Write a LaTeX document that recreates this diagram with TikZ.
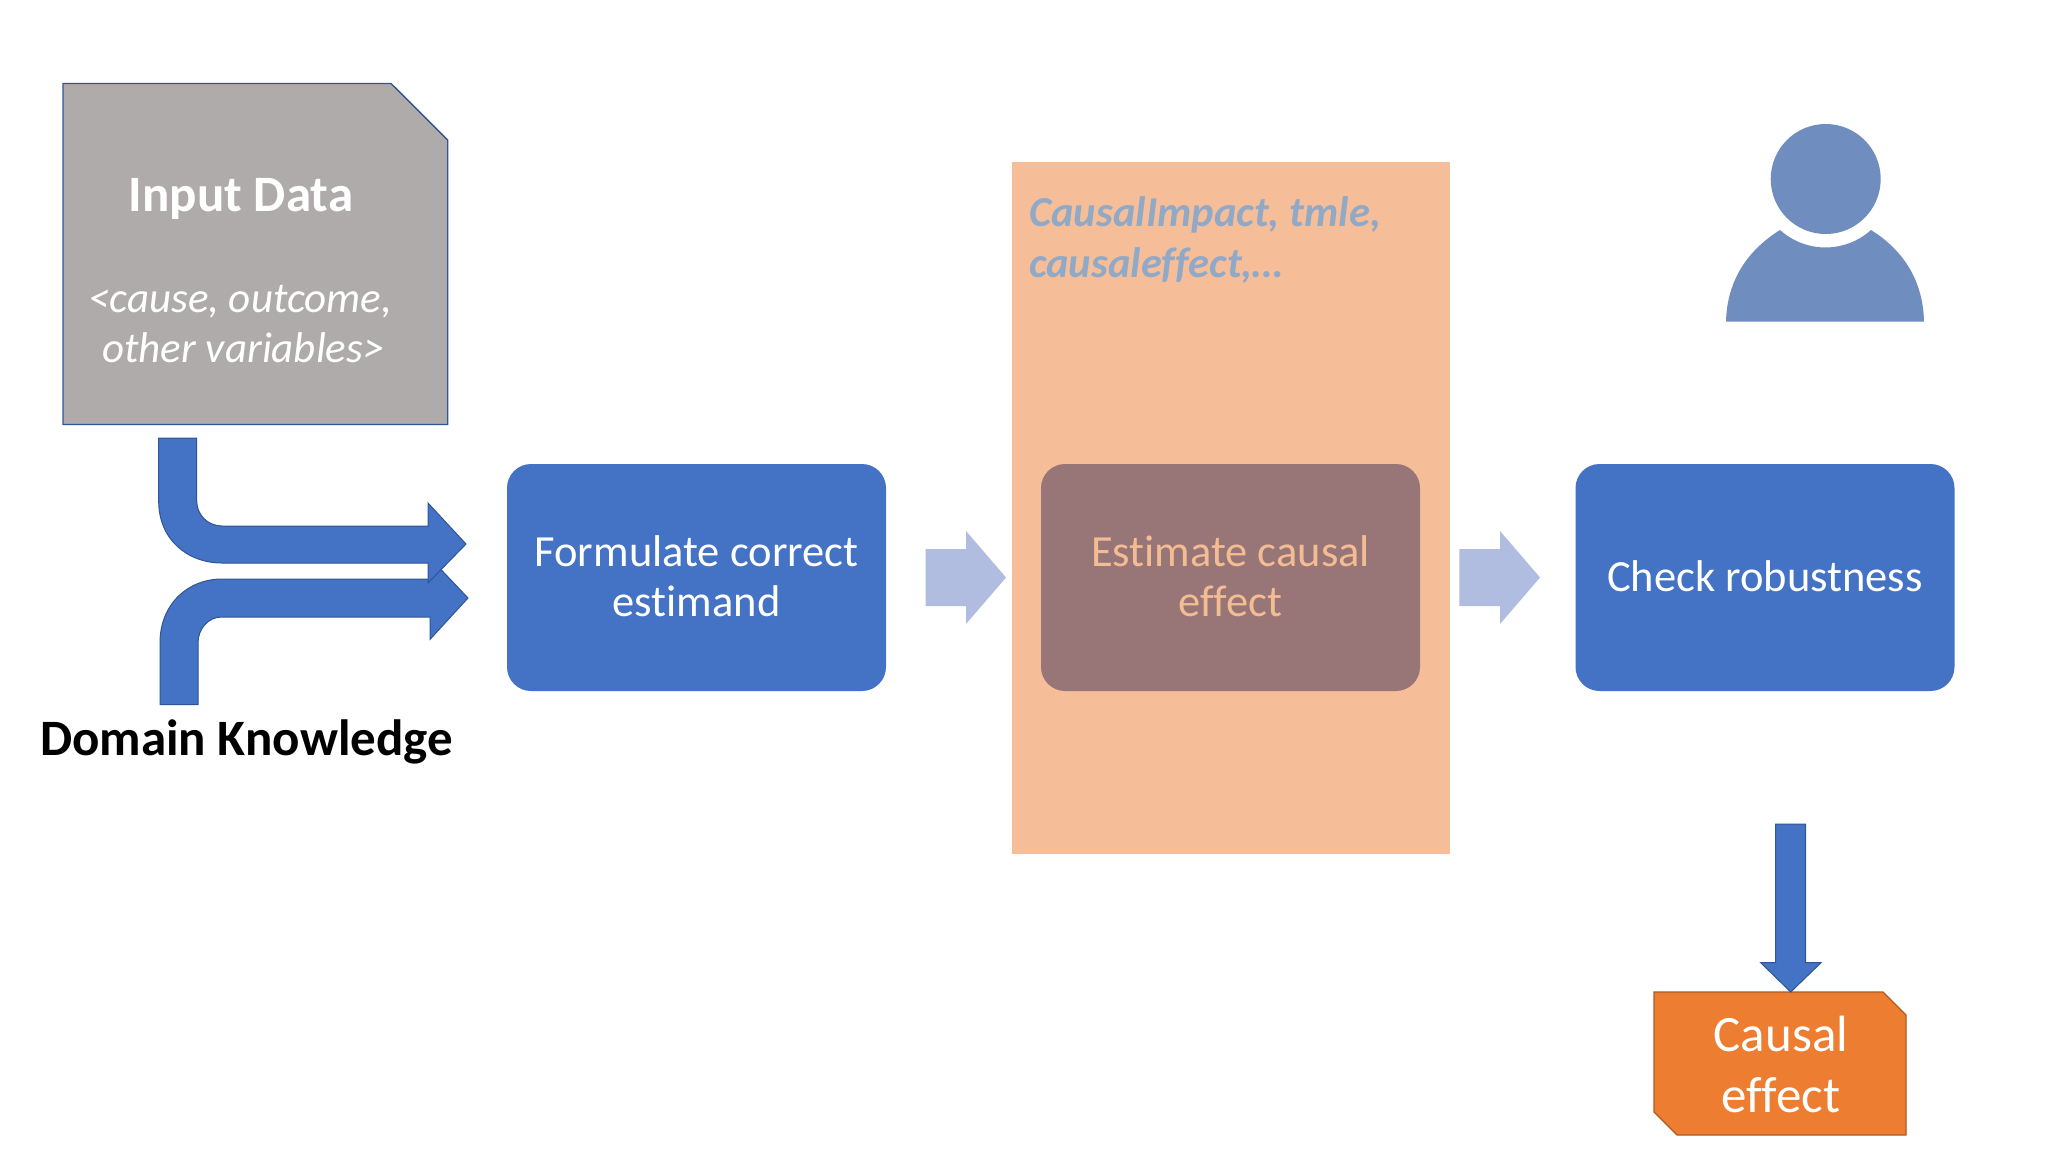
\documentclass[tikz,border=0pt]{standalone}
\usepackage{fontspec}
\setmainfont{Carlito}[Ligatures=CommonOff]
\definecolor{bluefill}{HTML}{4472C4}
\definecolor{blueline}{HTML}{2F5597}
\definecolor{greyfill}{HTML}{AFABAB}
\definecolor{panelfill}{HTML}{F6BD99}
\definecolor{dimbox}{HTML}{987577}
\definecolor{dimtext}{HTML}{F4BC92}
\definecolor{lightarrow}{HTML}{B0BCE0}
\definecolor{personfill}{HTML}{6F8DBE}
\definecolor{toolstext}{HTML}{90A9C7}
\definecolor{orangefill}{HTML}{ED7D31}
\definecolor{orangeline}{HTML}{AE5A21}
\newcommand{\liftline}{\rule[-3pt]{0pt}{3pt}}
\tikzset{
  px/.style={x=1pt,y=-1pt},
  blockarrow/.style={fill=bluefill,draw=blueline,line width=1pt,line join=miter},
  softarrow/.style={fill=lightarrow,draw=none},
  procbox/.style={rectangle,rounded corners=24pt,minimum width=379pt,minimum height=227pt,inner sep=0pt,align=center,fill=bluefill,text=white,font=\fontsize{44.5}{49.5}\selectfont},
  whitelabel/.style={inner sep=0pt,align=center,text=white},
  toolslabel/.style={anchor=base west,inner sep=0pt,text=toolstext,font=\fontsize{42.6}{42.6}\selectfont\bfseries\itshape},
}
\begin{document}
\begin{tikzpicture}[px]
\useasboundingbox[fill=white] (0,0) rectangle (2048,1152);
% input data
\draw[fill=greyfill,draw=blueline,line width=1.4pt] (63,83.5) -- (391,83.5) -- (447.7,140) -- (447.7,424.5) -- (63,424.5) -- cycle;
\node[whitelabel,anchor=base,font=\fontsize{51}{51}\selectfont\bfseries] (inputtitle) at (241,211) {Input Data};
\node[whitelabel,anchor=center,font=\fontsize{43}{50.5}\selectfont\itshape] (inputvars) at (240,324) {<cause, outcome,\\ \hspace{7pt}other variables>};
% merging arrows
\draw[blockarrow] (160,704.6) -- (160,643) .. controls (160,604) and (188,579) .. (222,579) -- (430,579) -- (430,558) -- (468,598) -- (430,639.4) -- (430,617) -- (222,617) .. controls (208,617) and (198,629) .. (198,643) -- (198,704.6) -- cycle;
\draw[blockarrow] (158.7,438) -- (158.7,501) .. controls (158.7,540) and (188,563) .. (222,563) -- (428,563) -- (428,583) -- (466,544) -- (428,503) -- (428,526) -- (222,526) .. controls (208,526) and (196.7,515) .. (196.7,501) -- (196.7,438) -- cycle;
\node[anchor=base,inner sep=0pt,text=black,font=\fontsize{51}{51}\selectfont\bfseries] (domain) at (246.5,755) {Domain Knowledge};
% formulate
\node[procbox] (formulate) at (696.5,577.5) {Formulate correct\\ estimand\liftline};
% panel
\node[rectangle,fill=panelfill,minimum width=437.5pt,minimum height=691.5pt,inner sep=0pt] (panel) at (1230.75,507.75) {};
\node[toolslabel] (toolsa) at (1029,226) {CausalImpact, tmle,};
\node[toolslabel] (toolsb) at (1029,277) {causaleffect,…};
\node[procbox,fill=dimbox,text=dimtext] (estimate) at (1230.5,577.5) {Estimate causal\\ effect\liftline};
% check
\node[procbox] (check) at (1765,577.5) {Check robustness\liftline};
% light arrows
\fill[softarrow] (925.6,549) -- (966,549) -- (966,531) -- (1006,577.5) -- (966,624) -- (966,606) -- (925.6,606) -- cycle;
\fill[softarrow] (1459.4,549) -- (1500,549) -- (1500,531) -- (1540,577.5) -- (1500,624) -- (1500,606) -- (1459.4,606) -- cycle;
% person
\fill[personfill] (1825.7,179) circle[radius=55];
\fill[personfill] (1726,321.5) .. controls (1727,280) and (1748,250) .. (1780,230) arc[start angle=132,end angle=48,radius=68] -- (1871,230) .. controls (1903,250) and (1923,280) .. (1924,321.5) -- cycle;
% causal effect
\draw[fill=orangefill,draw=orangeline,line width=1.2pt] (1654,992) -- (1883,992) -- (1906,1015) -- (1906,1135) -- (1677,1135) -- (1654,1112) -- cycle;
\node[whitelabel,anchor=center,font=\fontsize{51}{61}\selectfont] (effect) at (1781,1064) {Causal\\ effect};
\draw[blockarrow] (1775.7,824) -- (1805.7,824) -- (1805.7,962.7) -- (1821,962.7) -- (1790.7,992) -- (1760.7,962.7) -- (1775.7,962.7) -- cycle;
\end{tikzpicture}
\end{document}
